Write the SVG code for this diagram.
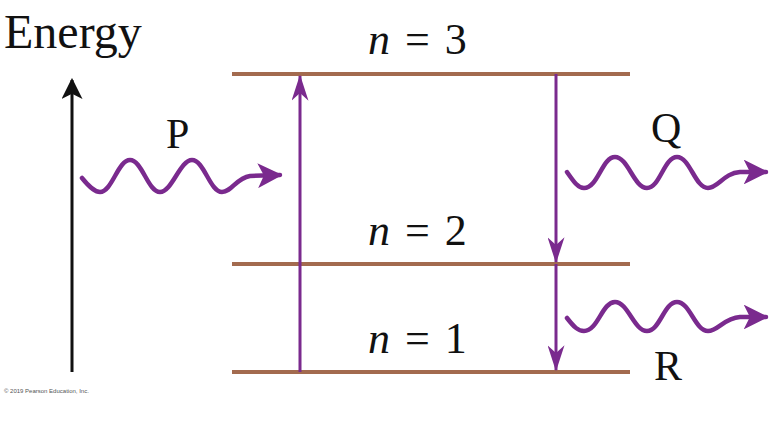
<svg xmlns="http://www.w3.org/2000/svg" width="774" height="422" viewBox="0 0 774 422">
<style>
.lv{stroke:#a36b4f;stroke-width:4}
.pu{stroke:#7a2a8e;stroke-width:3;fill:none}
.wv{stroke:#7a2a8e;stroke-width:4.5;fill:none;stroke-linecap:round}
.t{font-family:"Liberation Serif",serif;fill:#111}
.lab{font-size:44px;word-spacing:4px}
</style>
<defs>
<marker id="ap" viewBox="0 0 10 24" refX="9.5" refY="12" markerWidth="26" markerHeight="17" markerUnits="userSpaceOnUse" orient="auto" preserveAspectRatio="none"><path d="M0,0L10,12L0,24L3,12z" fill="#7a2a8e"/></marker>
<marker id="aw" viewBox="0 0 10 10" refX="9" refY="5" markerWidth="5.5" markerHeight="5.5" orient="auto"><path d="M0,0L10,5L0,10L2.5,5z" fill="#7a2a8e"/></marker>
<marker id="ak" viewBox="0 0 10 10" refX="9" refY="5" markerWidth="7" markerHeight="7" orient="auto"><path d="M0,0L10,5L0,10L2.5,5z" fill="#111"/></marker>
</defs>
<text class="t" x="4" y="48" font-size="48">Energy</text>
<g id="axis"><line x1="72" y1="372" x2="72" y2="80" stroke="#111" stroke-width="3" marker-end="url(#ak)"/></g>
<g id="n3"><line class="lv" x1="232" y1="74" x2="630" y2="74"/><text class="t lab" x="368" y="54"><tspan font-style="italic">n</tspan> = 3</text></g>
<g id="n2"><line class="lv" x1="232" y1="264" x2="630" y2="264"/><text class="t lab" x="368" y="245"><tspan font-style="italic">n</tspan> = 2</text></g>
<g id="n1"><line class="lv" x1="232" y1="372" x2="630" y2="372"/><text class="t lab" x="368" y="353"><tspan font-style="italic">n</tspan> = 1</text></g>
<g id="P"><text class="t" x="166" y="148" font-size="42">P</text>
<path class="wv" marker-end="url(#aw)" d="M82,178 C90,188 95,192 100,192 C112,192 118,160 130,160 C142,160 148,192 160,192 C172,192 180,160 192,160 C204,160 210,192 222,192 C232,192 236,178 250,176 L280,175"/></g>
<g id="Q"><text class="t" x="651" y="142" font-size="42">Q</text>
<path class="wv" marker-end="url(#aw)" d="M567,172 C574,182 578,188 584,188 C598,188 602,157 615,157 C628,157 634,188 647,188 C660,188 664,157 677,157 C690,157 695,188 708,188 C718,188 724,173 740,172 L766,172"/></g>
<g id="R"><text class="t" x="654" y="380" font-size="42">R</text>
<path class="wv" marker-end="url(#aw)" d="M567,318 C574,327 578,331 584,331 C598,331 602,302 615,302 C628,302 634,331 647,331 C660,331 664,302 677,302 C690,302 695,331 708,331 C718,331 724,318 740,317 L766,317"/></g>
<g id="connectors">
<line class="pu" x1="300" y1="372" x2="300" y2="76" marker-end="url(#ap)"/>
<line class="pu" x1="556" y1="74" x2="556" y2="262" marker-end="url(#ap)"/>
<line class="pu" x1="556" y1="264" x2="556" y2="370" marker-end="url(#ap)"/>
</g>
<text x="4" y="393" font-family="Liberation Sans,sans-serif" font-size="6" fill="#555">© 2019 Pearson Education, Inc.</text>
</svg>
